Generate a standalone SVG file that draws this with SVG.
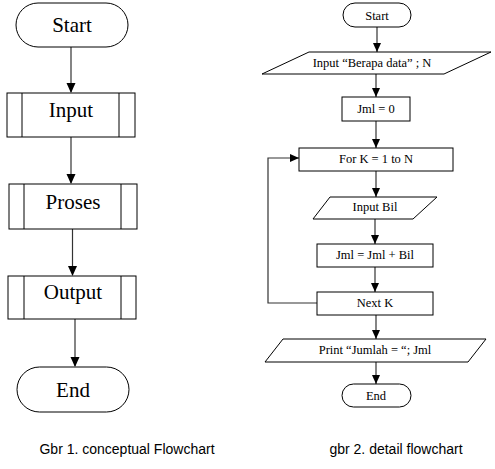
<svg xmlns="http://www.w3.org/2000/svg" width="495" height="469" viewBox="0 0 495 469">
<defs>
<marker id="ahL" markerWidth="10" markerHeight="12" refX="9" refY="4.5" orient="auto" markerUnits="userSpaceOnUse" viewBox="0 0 10 9">
<path d="M0,0 L10,4.5 L0,9 Z" fill="#000"/>
</marker>
<marker id="ahR" markerWidth="9" markerHeight="8" refX="9" refY="4" orient="auto" markerUnits="userSpaceOnUse" viewBox="0 0 9 8">
<path d="M0,0 L9,4 L0,8 Z" fill="#000"/>
</marker>
</defs>
<style>
.s{fill:#fff;stroke:#000;stroke-width:1}
.c{fill:none;stroke:#333;stroke-width:1.2}
.tl{font-family:"Liberation Serif",serif;font-size:21px;fill:#000;text-anchor:middle}
.tr{font-family:"Liberation Serif",serif;font-size:12.5px;fill:#000;text-anchor:middle}
.cap{font-family:"Liberation Sans",sans-serif;font-size:14px;fill:#000;text-anchor:middle}
</style>
<rect width="495" height="469" fill="#fff"/>
<g id="connectors">
<line class="c" x1="71" y1="47" x2="71" y2="92" marker-end="url(#ahL)"/>
<line class="c" x1="71" y1="137" x2="71" y2="183" marker-end="url(#ahL)"/>
<line class="c" x1="72.5" y1="229" x2="72.5" y2="275" marker-end="url(#ahL)"/>
<line class="c" x1="75" y1="319" x2="75" y2="366" marker-end="url(#ahL)"/>
<line class="c" x1="377" y1="27" x2="377" y2="52" marker-end="url(#ahR)"/>
<line class="c" x1="376" y1="74" x2="376" y2="97" marker-end="url(#ahR)"/>
<line class="c" x1="376" y1="121" x2="376" y2="148" marker-end="url(#ahR)"/>
<line class="c" x1="376" y1="171" x2="376" y2="197" marker-end="url(#ahR)"/>
<line class="c" x1="375" y1="219" x2="375" y2="244" marker-end="url(#ahR)"/>
<line class="c" x1="375" y1="267" x2="375" y2="292" marker-end="url(#ahR)"/>
<line class="c" x1="376" y1="315" x2="376" y2="339" marker-end="url(#ahR)"/>
<line class="c" x1="376" y1="362" x2="376" y2="384" marker-end="url(#ahR)"/>
<polyline class="c" points="317,303 268,303 268,158 299,158" marker-end="url(#ahR)"/>
</g>
<g id="l-start">
<rect class="s" x="16" y="3" width="112" height="44" rx="22"/>
<text class="tl" x="72" y="32">Start</text>
</g>
<g id="l-input">
<rect class="s" x="7" y="93" width="128" height="44"/>
<line class="s" x1="22" y1="93" x2="22" y2="137"/>
<line class="s" x1="119" y1="93" x2="119" y2="137"/>
<text class="tl" x="71" y="117">Input</text>
</g>
<g id="l-proses">
<rect class="s" x="9" y="184" width="128" height="45"/>
<line class="s" x1="24" y1="184" x2="24" y2="229"/>
<line class="s" x1="121" y1="184" x2="121" y2="229"/>
<text class="tl" x="73" y="209">Proses</text>
</g>
<g id="l-output">
<rect class="s" x="8" y="276" width="128" height="43"/>
<line class="s" x1="24" y1="276" x2="24" y2="319"/>
<line class="s" x1="121" y1="276" x2="121" y2="319"/>
<text class="tl" x="73" y="299">Output</text>
</g>
<g id="l-end">
<rect class="s" x="17" y="367" width="112" height="45" rx="22.5"/>
<text class="tl" x="73" y="397">End</text>
</g>
<g id="r-start">
<rect class="s" x="343" y="3" width="68" height="24" rx="12"/>
<text class="tr" x="377" y="20">Start</text>
</g>
<g id="r-input">
<polygon class="s" points="309,52 491,52 444,74 262,74"/>
<text class="tr" x="372" y="67">Input “Berapa data” ; N</text>
</g>
<g id="r-jml0">
<rect class="s" x="342" y="97" width="68" height="24"/>
<text class="tr" x="376" y="113">Jml = 0</text>
</g>
<g id="r-for">
<rect class="s" x="299" y="148" width="154" height="23"/>
<text class="tr" x="376" y="163">For K = 1 to N</text>
</g>
<g id="r-inputbil">
<polygon class="s" points="330,197 437,197 413,219 313,219"/>
<text class="tr" x="375" y="211">Input Bil</text>
</g>
<g id="r-sum">
<rect class="s" x="317" y="244" width="116" height="23"/>
<text class="tr" x="375" y="259">Jml = Jml + Bil</text>
</g>
<g id="r-next">
<rect class="s" x="317" y="292" width="116" height="23"/>
<text class="tr" x="375" y="307">Next K</text>
</g>
<g id="r-print">
<polygon class="s" points="283,339 486,339 468,362 265,362"/>
<text class="tr" x="375" y="354">Print “Jumlah = “; Jml</text>
</g>
<g id="r-end">
<rect class="s" x="342" y="384" width="69" height="23" rx="11.5"/>
<text class="tr" x="376" y="400">End</text>
</g>
<text class="cap" x="127" y="454">Gbr 1. conceptual Flowchart</text>
<text class="cap" x="396" y="454">gbr 2. detail flowchart</text>
</svg>
